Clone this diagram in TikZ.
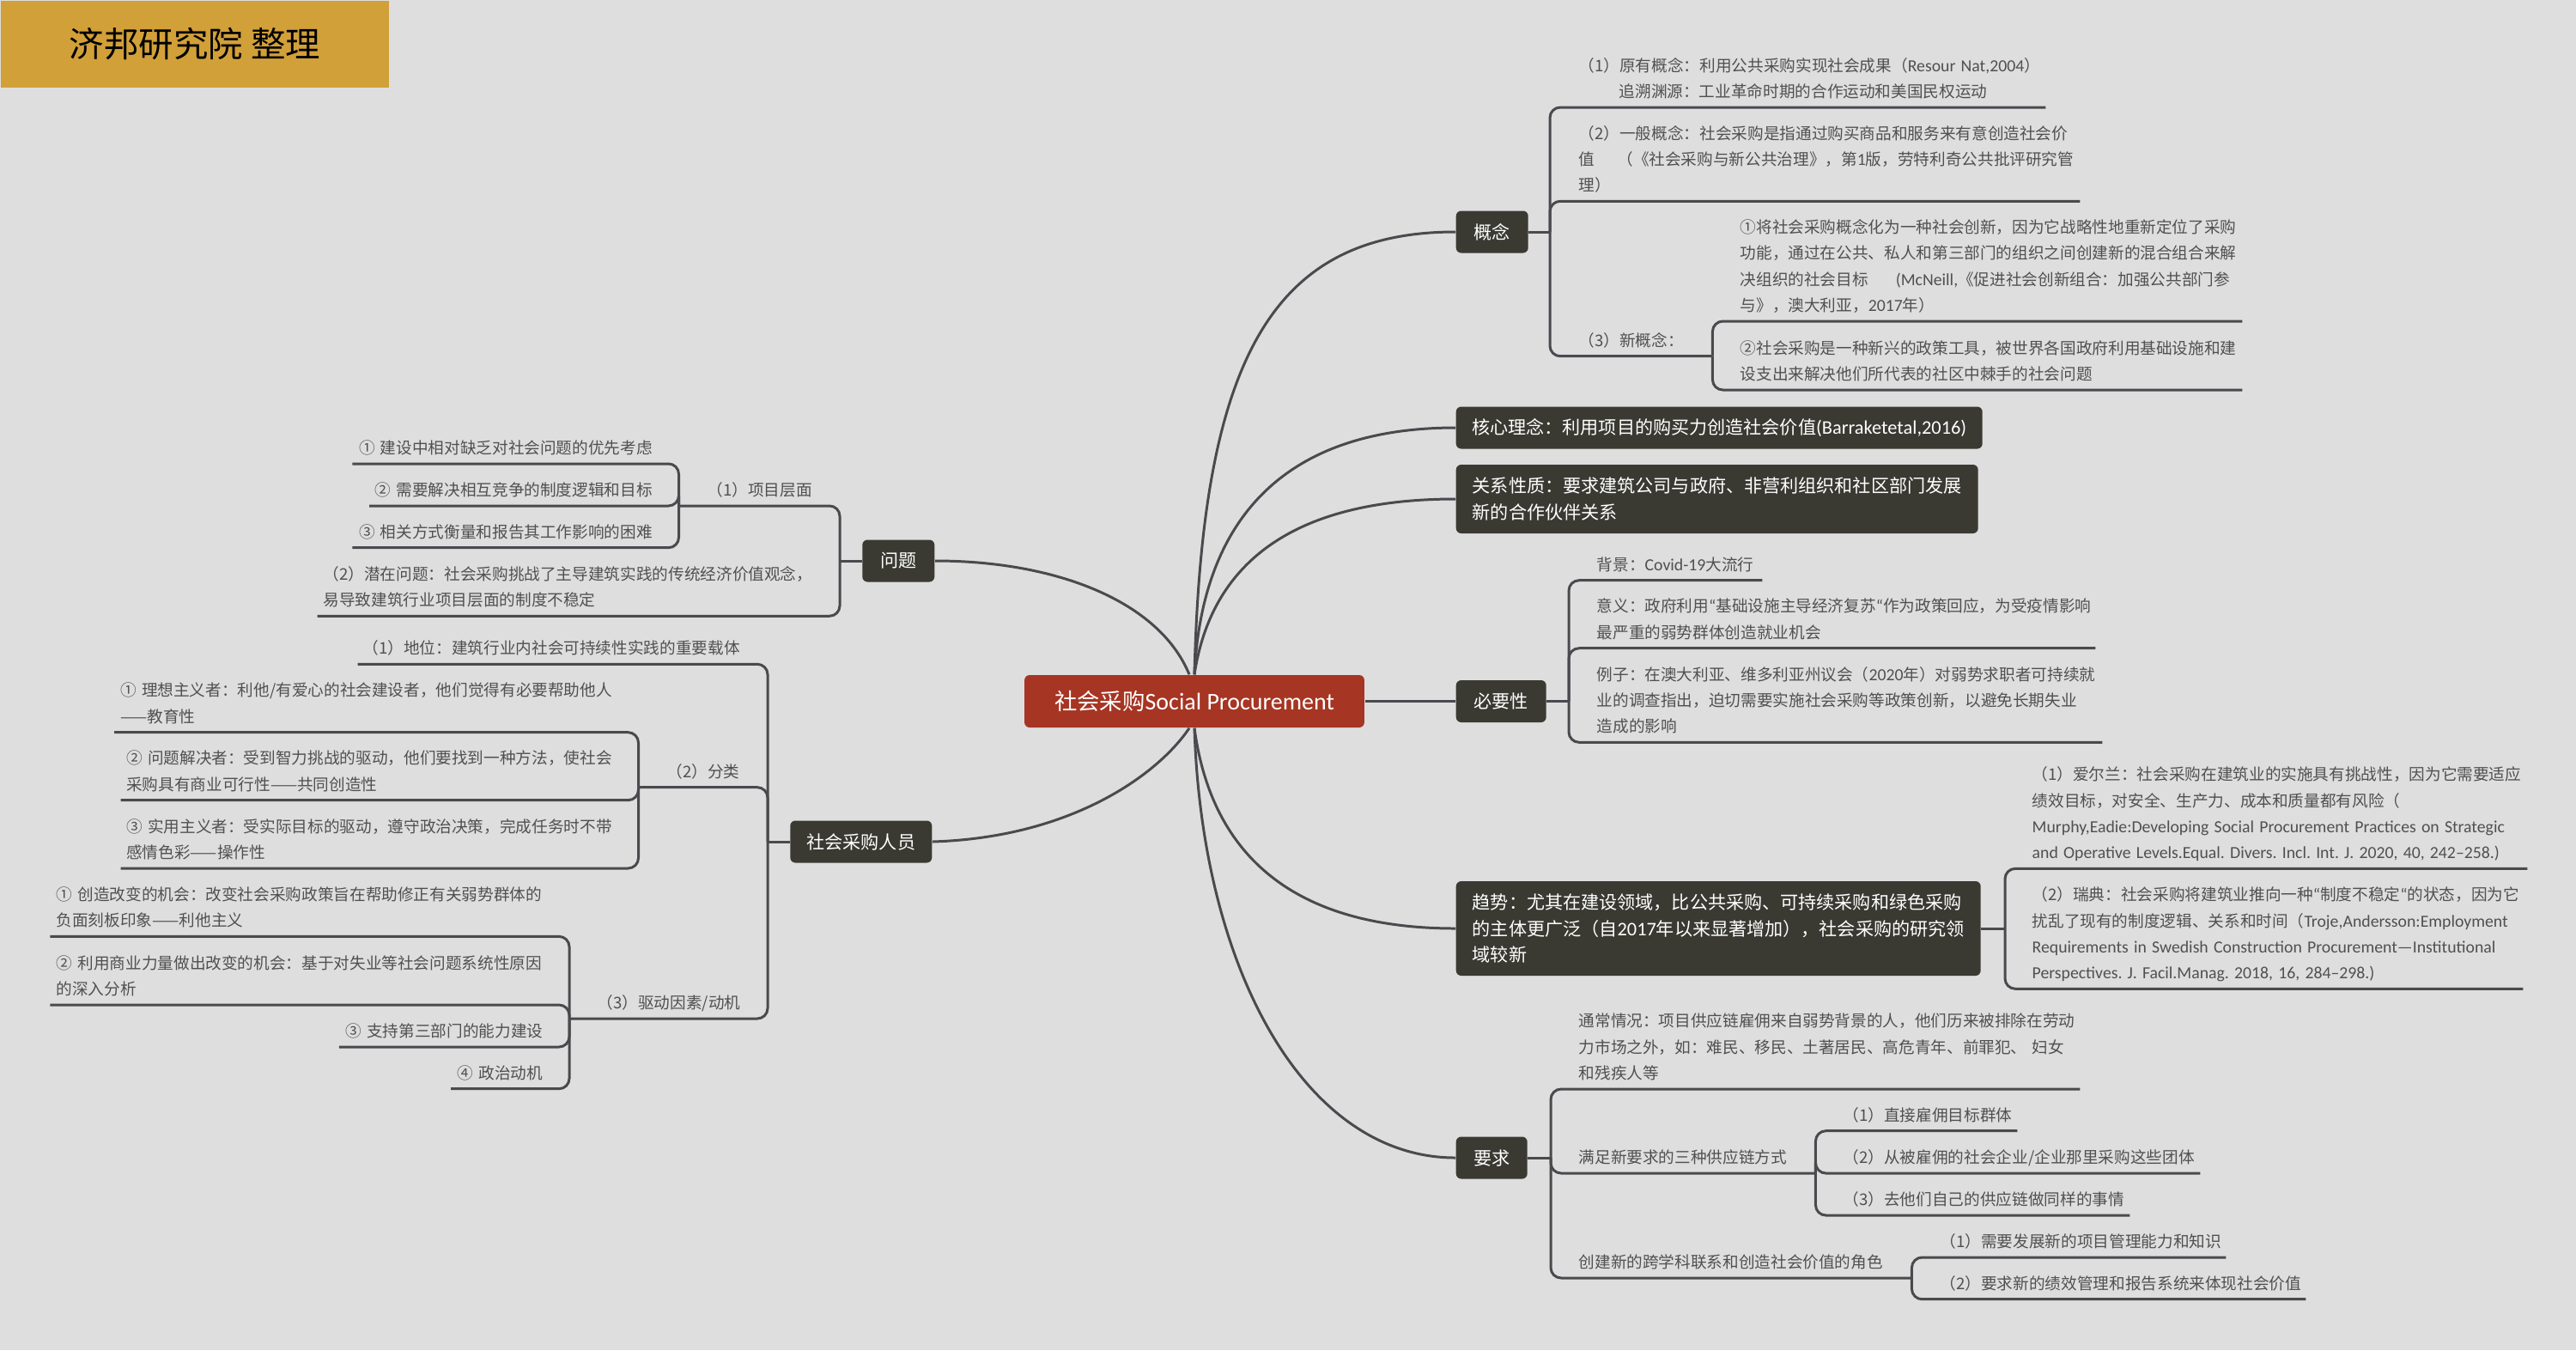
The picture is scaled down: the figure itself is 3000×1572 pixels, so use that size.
\documentclass[tikz,border=0pt]{standalone}
\usepackage{fontspec}
\setmainfont{Noto Sans CJK SC}
\newfontfamily\latin[Scale=1.06]{Carlito}
\newcommand{\lat}[1]{{\latin\frenchspacing #1}}
\newdimen\pxu
\pxu=0.01cm
\definecolor{paper}{HTML}{DEDEDE}
\definecolor{gold}{HTML}{D2A038}
\definecolor{brick}{HTML}{A63523}
\definecolor{slate}{HTML}{3A3A33}
\definecolor{wire}{HTML}{4A4A4E}
\definecolor{leafgray}{HTML}{505050}
\tikzset{
    leaf/.style 2 args={anchor=south west,inner xsep=0pt,inner ysep=1.85pt,text=leafgray,
        font=\fontsize{5.3}{8.62}\selectfont,align=left,text width=#1\pxu,execute at begin node={\leftskip=#2\pxu},
        execute at end node={\rule[-1.2pt]{0pt}{1.2pt}}},
    topic/.style 2 args={anchor=west,fill=slate,text=white,rounded corners=0.06cm,inner sep=0pt,align=left,
        font=\fontsize{6}{8.62}\selectfont,minimum width=#1*0.01cm,minimum height=#2*0.01cm},
    link/.style={draw=wire,line width=0.85pt,rounded corners=0.12cm}
}
\begin{document}
\begin{tikzpicture}[x=0.01cm,y=-0.01cm]
    \fill[paper] (0,0) rectangle (3000,1572);
    \useasboundingbox (0,0) rectangle (3000,1572);
    \node[fill=gold,anchor=north west,minimum width=4.52cm,minimum height=1.01cm,inner sep=0pt,font=\fontsize{11.5}{14}\selectfont] (title) at (0,0) {济邦研究院 整理};
    \node[anchor=center,fill=brick,text=white,rounded corners=0.06cm,inner sep=0pt,minimum width=3.956cm,minimum height=0.61cm,font=\fontsize{7.5}{9}\selectfont] (root) at (1391,816.5) {社会采购\lat{Social Procurement}};
    % right side topics
    \node[topic={84}{49}] (concept) at (1695,270) {概念};
    \node[topic={613}{49}] (core) at (1695,498) {核心理念：利用项目的购买力创造社会价值\lat{(Barraketetal,2016)}};
    \node[topic={608}{80}] (nature) at (1695,581) {关系性质：要求建筑公司与政府、非营利组织和社区部门发展\\新的合作伙伴关系};
    \node[topic={105}{49}] (need) at (1695,816.5) {必要性};
    \node[topic={611}{110}] (trend) at (1695,1081) {趋势：尤其在建设领域，比公共采购、可持续采购和绿色采购\\的主体更广泛（自\lat{2017}年以来显著增加），社会采购的研究领\\域较新};
    \node[topic={83}{49}] (demand) at (1695,1348) {要求};
    % left side topics
    \node[topic={84}{49},anchor=east] (issue) at (1089,653) {问题};
    \node[topic={165}{49},anchor=east] (staff) at (1086,980) {社会采购人员};
    \coordinate (conceptb) at (1805,270);
    \coordinate (needb) at (1827,816.5);
    \coordinate (trendb) at (2335,1081);
    \coordinate (demandb) at (1806,1348);
    \coordinate (issueb) at (978,653);
    \coordinate (staffb) at (894,980);
    % concept
    \node[leaf={576}{33}] (concept1) at (1805,125) {（1）原有概念：利用公共采购实现社会成果（\lat{Resour Nat,2004}）\\\hspace*{0.47cm}追溯渊源：工业革命时期的合作运动和美国民权运动};
    \node[leaf={616}{33}] (concept2) at (1805,234.3) {（2）一般概念：社会采购是指通过购买商品和服务来有意创造社会价\\值\hspace{0.26cm}（《社会采购与新公共治理》，第\lat{1}版，劳特利奇公共批评研究管\\理）};
    \node[leaf={188}{33}] (concept3) at (1805,414.7) {（3）新概念：};
    \node[leaf={617}{33}] (newa) at (1993,374) {①将社会采购概念化为一种社会创新，因为它战略性地重新定位了采购\\功能，通过在公共、私人和第三部门的组织之间创建新的混合组合来解\\决组织的社会目标\hspace{0.32cm}\lat{(McNeill,}《促进社会创新组合：加强公共部门参\\与》，澳大利亚，\lat{2017}年）};
    \node[leaf={617}{33}] (newb) at (1993,454) {②社会采购是一种新兴的政策工具，被世界各国政府利用基础设施和建\\设支出来解决他们所代表的社区中棘手的社会问题};
    % need
    \node[leaf={224}{32}] (need1) at (1827,675.7) {背景：\lat{Covid-19}大流行};
    \node[leaf={612}{32}] (need2) at (1827,754.7) {意义：政府利用\lat{“}基础设施主导经济复苏\lat{“}作为政策回应，为受疫情影响\\最严重的弱势群体创造就业机会};
    \node[leaf={620}{32}] (need3) at (1827,864.3) {例子：在澳大利亚、维多利亚州议会（\lat{2020}年）对弱势求职者可持续就\\业的调查指出，迫切需要实施社会采购等政策创新，以避免长期失业\\造成的影响};
    % trend
    \node[leaf={607}{31}] (trend1) at (2335,1011.3) {（1）爱尔兰：社会采购在建筑业的实施具有挑战性，因为它需要适应\\绩效目标，对安全、生产力、成本和质量都有风险（\\\lat{Murphy,Eadie:Developing Social Procurement Practices on Strategic}\\\lat{and Operative Levels.Equal. Divers. Incl. Int. J. 2020, 40, 242–258.)}};
    \node[leaf={602}{31}] (trend2) at (2335,1151.3) {（2）瑞典：社会采购将建筑业推向一种\lat{“}制度不稳定\lat{“}的状态，因为它\\扰乱了现有的制度逻辑、关系和时间（\lat{Troje,Andersson:Employment}\\\lat{Requirements in Swedish Construction Procurement—Institutional}\\\lat{Perspectives. J. Facil.Manag. 2018, 16, 284–298.)}};
    % demand
    \node[leaf={615}{32}] (demand1) at (1806,1268) {通常情况：项目供应链雇佣来自弱势背景的人，他们历来被排除在劳动\\力市场之外，如：难民、移民、土著居民、高危青年、前罪犯、 妇女\\和残疾人等};
    \node[leaf={307}{32}] (demand2) at (1806,1366) {满足新要求的三种供应链方式};
    \node[leaf={419}{32}] (demand3) at (1806,1488) {创建新的跨学科联系和创造社会价值的角色};
    \node[leaf={235}{33}] (supplya) at (2113,1316.7) {（1）直接雇佣目标群体};
    \node[leaf={448}{33}] (supplyb) at (2113,1366) {（2）从被雇佣的社会企业/企业那里采购这些团体};
    \node[leaf={366}{33}] (supplyc) at (2113,1415) {（3）去他们自己的供应链做同样的事情};
    \node[leaf={366}{34}] (rolea) at (2225,1464) {（1）需要发展新的项目管理能力和知识};
    \node[leaf={459}{34}] (roleb) at (2225,1512.7) {（2）要求新的绩效管理和报告系统来体现社会价值};
    % issue
    \node[leaf={187.5}{32.5}] (issue1) at (790.5,589) {（1）项目层面};
    \node[leaf={608.4}{6.4}] (issue2) at (369.6,717.3) {（2）潜在问题：社会采购挑战了主导建筑实践的传统经济价值观念，\\易导致建筑行业项目层面的制度不稳定};
    \node[leaf={380}{7}] (issuea) at (410.4,540) {① 建设中相对缺乏对社会问题的优先考虑};
    \node[leaf={360.5}{6}] (issueb1) at (430,589) {② 需要解决相互竞争的制度逻辑和目标};
    \node[leaf={380}{7}] (issuec) at (410.4,637.7) {③ 相关方式衡量和报告其工作影响的困难};
    % staff
    \node[leaf={477.5}{5.5}] (staff1) at (416.5,773.3) {（1）地位：建筑行业内社会可持续性实践的重要载体};
    \node[leaf={150.5}{32.5}] (staff2) at (743.5,916.7) {（2）分类};
    \node[leaf={231}{32}] (staff3) at (663,1186) {（3）驱动因素/动机};
    \node[leaf={610.5}{6.5}] (kinda) at (133,852.7) {① 理想主义者：利他/有爱心的社会建设者，他们觉得有必要帮助他人\\——教育性};
    \node[leaf={603}{6}] (kindb) at (140.6,931.7) {② 问题解决者：受到智力挑战的驱动，他们要找到一种方法，使社会\\采购具有商业可行性——共同创造性};
    \node[leaf={603}{6}] (kindc) at (140.6,1011) {③ 实用主义者：受实际目标的驱动，遵守政治决策，完成任务时不带\\感情色彩——操作性};
    \node[leaf={604.6}{6.6}] (drivea) at (58.4,1090.3) {① 创造改变的机会：改变社会采购政策旨在帮助修正有关弱势群体的\\负面刻板印象——利他主义};
    \node[leaf={604.6}{6.6}] (driveb) at (58.4,1170) {② 利用商业力量做出改变的机会：基于对失业等社会问题系统性原因\\的深入分析};
    \node[leaf={268}{7}] (drivec) at (394.8,1219) {③ 支持第三部门的能力建设};
    \node[leaf={138}{7}] (drived) at (525,1267.7) {④ 政治动机};
    % curves from the root
    \draw[link] (root.north) .. controls (1400,420) and (1480,270) .. (concept.west);
    \draw[link] (root.north) .. controls (1400,600) and (1500,498) .. (core.west);
    \draw[link] (root.north) .. controls (1410,660) and (1500,581) .. (nature.west);
    \draw[link] (root.east) -- (need.west);
    \draw[link] (root.south) .. controls (1410,990) and (1500,1081) .. (trend.west);
    \draw[link] (root.south) .. controls (1400,1130) and (1520,1348) .. (demand.west);
    \draw[link] ([xshift=-0.06cm]root.north) .. controls (1350,700) and (1230,653) .. (issue.east);
    \draw[link] ([xshift=-0.06cm]root.south) .. controls (1350,900) and (1250,975) .. (staff.east);
    % brackets
    \draw[link] (concept.east) -- (conceptb);
    \draw[link] (need.east) -- (needb);
    \draw[link] (trend.east) -- (trendb);
    \draw[link] (demand.east) -- (demandb);
    \draw[link] (issue.west) -- (issueb);
    \draw[link] (staff.west) -- (staffb);
    \foreach \n in {concept1,concept2,concept3}{\draw[link] (conceptb) |- (\n.south east);}
    \foreach \n in {newa,newb}{\draw[link] (concept3.south east) |- (\n.south east);}
    \foreach \n in {need1,need2,need3}{\draw[link] (needb) |- (\n.south east);}
    \foreach \n in {trend1,trend2}{\draw[link] (trendb) |- (\n.south east);}
    \foreach \n in {demand1,demand2,demand3}{\draw[link] (demandb) |- (\n.south east);}
    \foreach \n in {supplya,supplyb,supplyc}{\draw[link] (demand2.south east) |- (\n.south east);}
    \foreach \n in {rolea,roleb}{\draw[link] (demand3.south east) |- (\n.south east);}
    \foreach \n in {issue1,issue2}{\draw[link] (issueb) |- (\n.south west);}
    \foreach \n in {issuea,issueb1,issuec}{\draw[link] (issue1.south west) |- (\n.south west);}
    \foreach \n in {staff1,staff2,staff3}{\draw[link] (staffb) |- (\n.south west);}
    \foreach \n in {kinda,kindb,kindc}{\draw[link] (staff2.south west) |- (\n.south west);}
    \foreach \n in {drivea,driveb,drivec,drived}{\draw[link] (staff3.south west) |- (\n.south west);}
\end{tikzpicture}
\end{document}
